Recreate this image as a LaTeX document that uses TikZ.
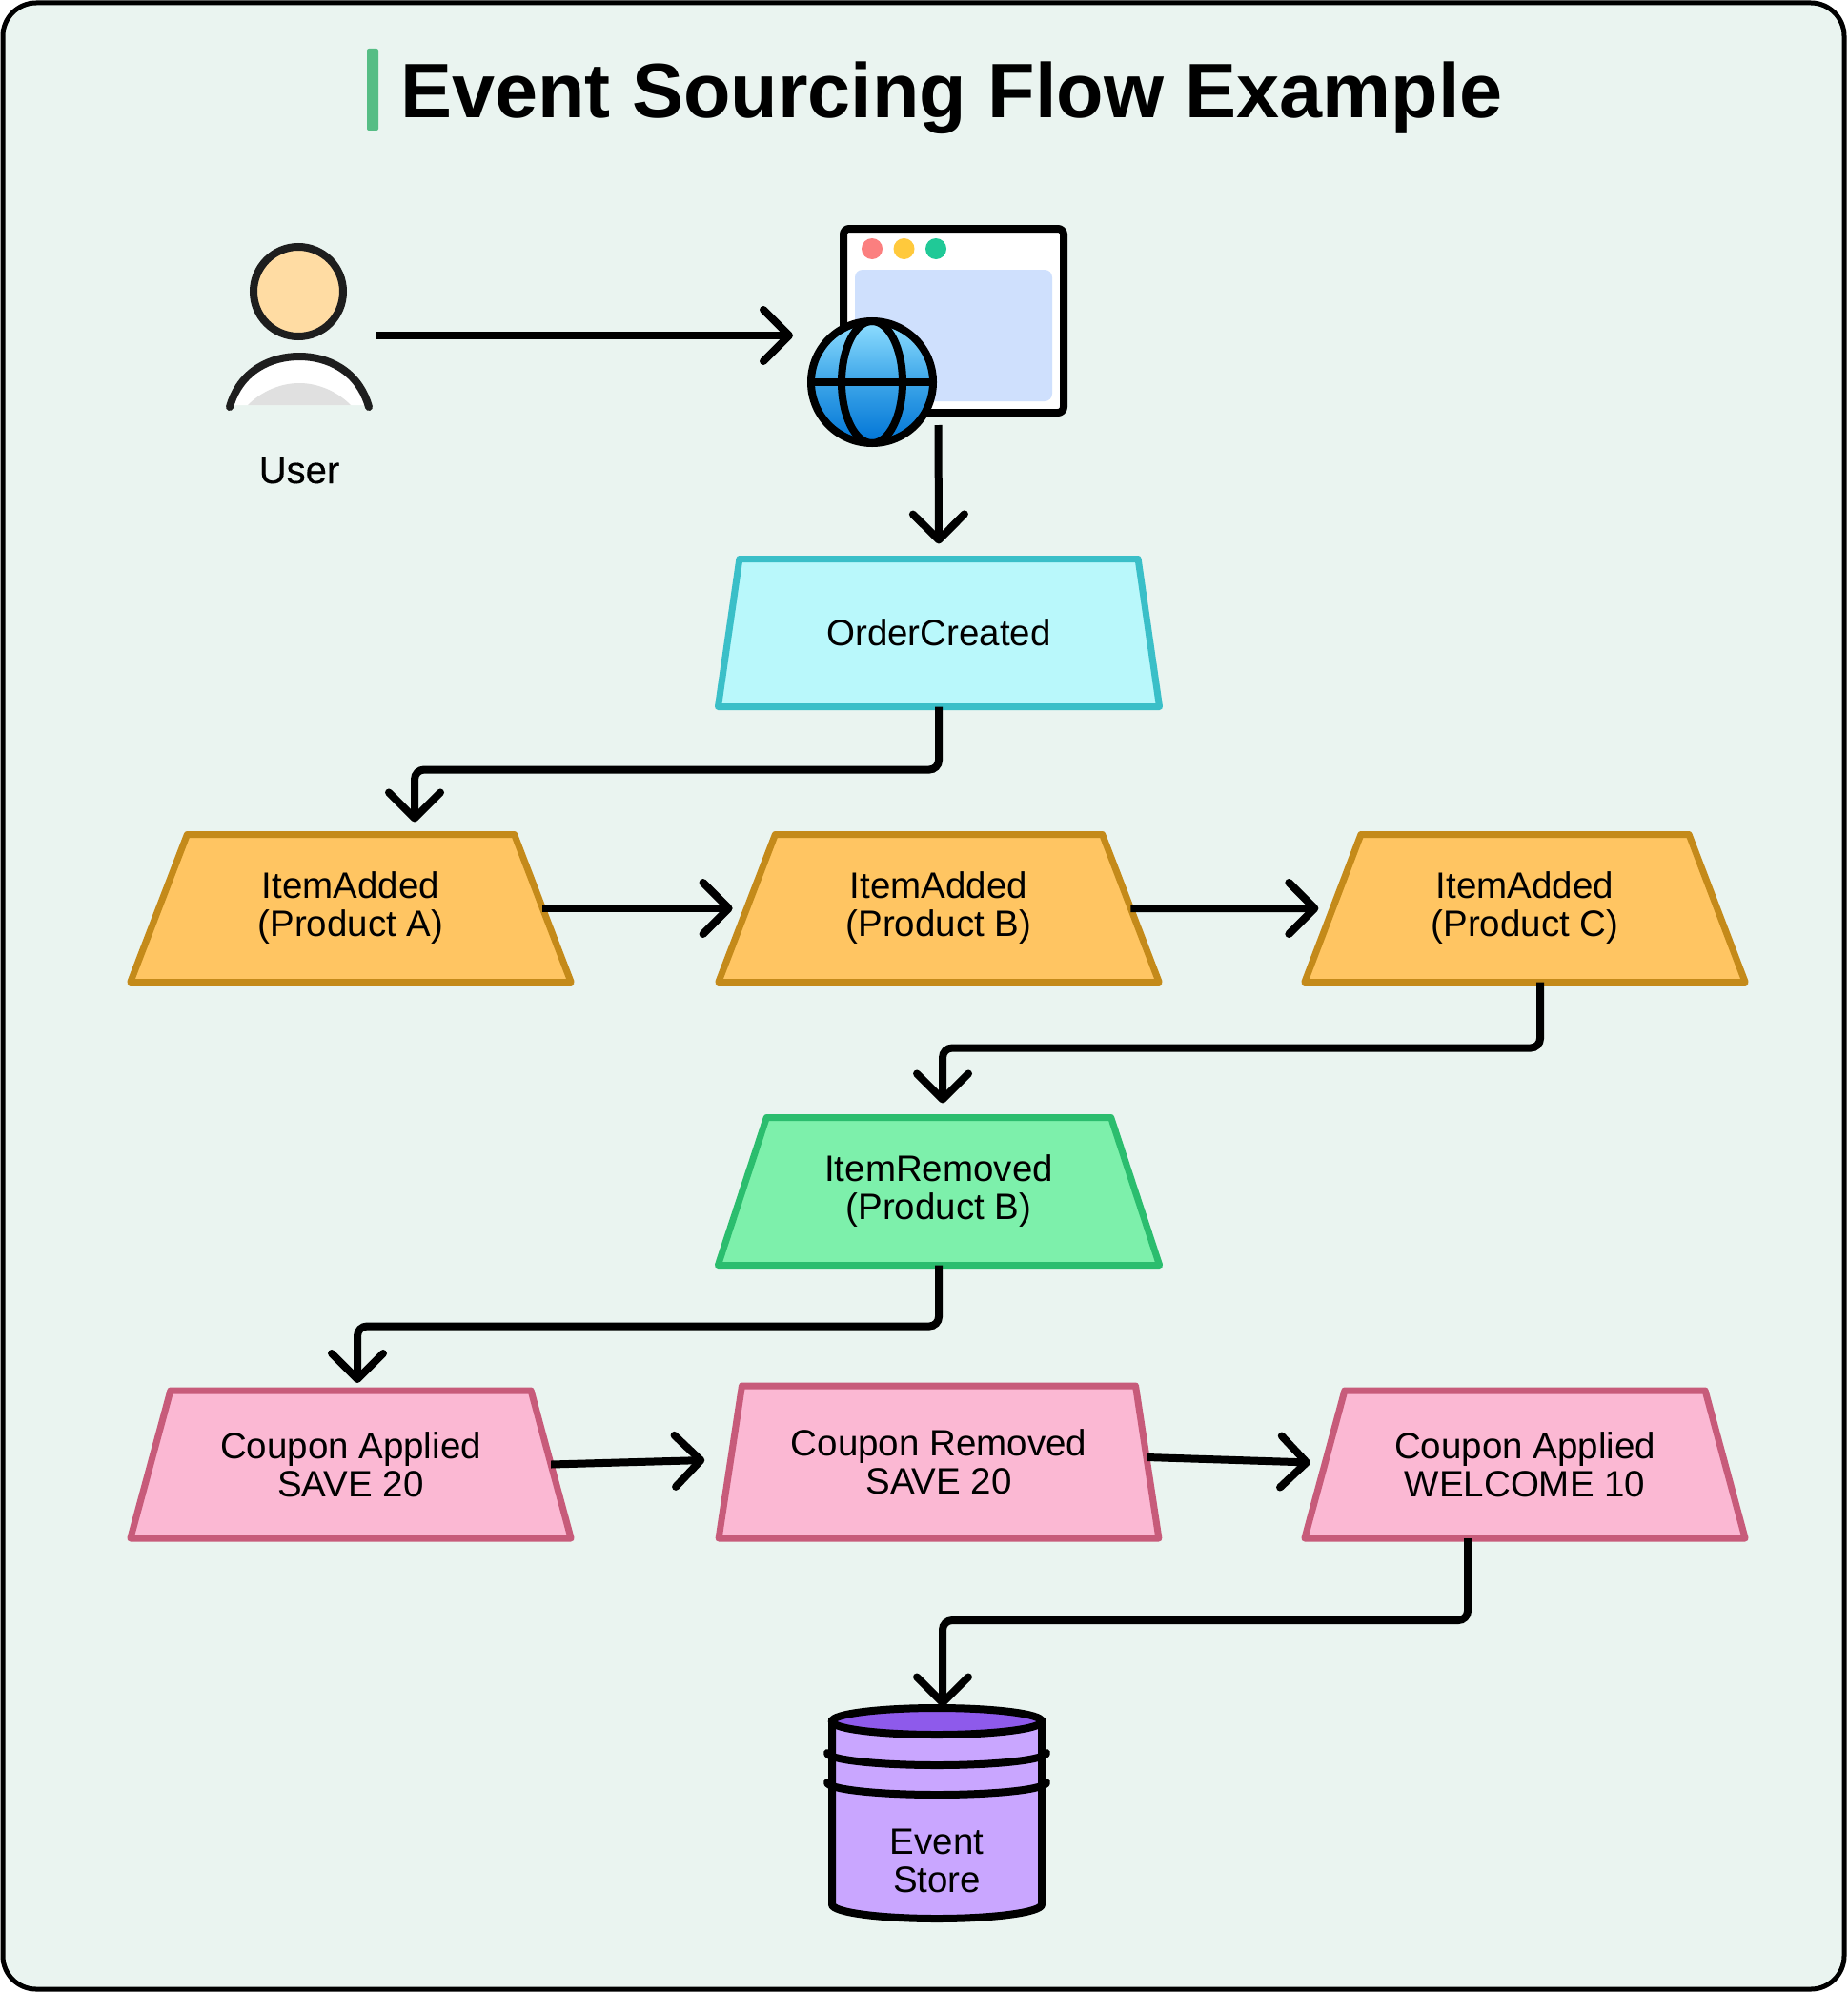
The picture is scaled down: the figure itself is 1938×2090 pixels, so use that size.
\documentclass[tikz,border=0pt]{standalone}
\usepackage{fontspec}
\setmainfont{Liberation Sans}
\newfontfamily\mediumfont[FakeBold=0.3]{Liberation Sans}
\usetikzlibrary{arrows.meta,shapes.geometric}

\definecolor{pagefill}{HTML}{EAF4F0}
\definecolor{orderfill}{HTML}{B9F8FB}
\definecolor{orderline}{HTML}{3ABFC8}
\definecolor{itemfill}{HTML}{FFC562}
\definecolor{itemline}{HTML}{C48A1A}
\definecolor{removedfill}{HTML}{7DF0AB}
\definecolor{removedline}{HTML}{2BBD6E}
\definecolor{couponfill}{HTML}{FBB8D3}
\definecolor{couponline}{HTML}{C75B7A}
\definecolor{storefill}{HTML}{C9A6FF}
\definecolor{storetop}{HTML}{8E5AEB}
\definecolor{barfill}{HTML}{56BD85}
\definecolor{panelfill}{HTML}{CFE0FD}
\definecolor{headfill}{HTML}{FFDCA3}
\definecolor{bodyline}{HTML}{1E1E1E}

\tikzset{
  event/.style={trapezium,trapezium stretches=true,draw,line width=7pt,line join=round,
    inner sep=0pt,outer sep=0pt,minimum width=464pt,minimum height=155pt,
    trapezium left angle=66,trapezium right angle=66,align=center,
    font=\fontsize{38.5}{40}\selectfont},
  flow/.style={draw=black,line width=8pt,rounded corners=10pt,
    -{Straight Barb[length=27pt,width=54pt,round]}},
  boxlabel/.style={inner sep=0pt,outer sep=0pt,align=center,font=\fontsize{38.5}{40}\selectfont},
  light/.style={circle,inner sep=0pt,outer sep=0pt,minimum size=22pt},
  storeline/.style={draw=black,line width=8pt,line cap=round}
}

\begin{document}
\begin{tikzpicture}[x=1pt,y=-1pt]
  \useasboundingbox (0,0) rectangle (1938,2090);
  \draw[line width=5pt,fill=pagefill,rounded corners=35pt] (3,3) rectangle (1935,2087);

  \node[fill=barfill,rounded corners=2pt,inner sep=0pt,outer sep=0pt,minimum width=12pt,minimum height=86pt] (titlebar) at (391,94) {};
  \node[anchor=base west,inner sep=0pt,font=\fontsize{81}{84}\bfseries] (title) at (420,124) {Event Sourcing Flow Example};

  % user
  \fill[white] (243,425) .. controls (254,388) and (285,374) .. (314,374) .. controls (343,374) and (374,388) .. (385,425) -- cycle;
  \fill[black!12] (260,425) .. controls (275,410) and (295,402) .. (314,402) .. controls (333,402) and (353,410) .. (368,425) -- cycle;
  \draw[draw=bodyline,line width=8pt,line cap=round] (241,427) .. controls (252,388) and (285,374) .. (314,374) .. controls (343,374) and (376,388) .. (387,427);
  \node[circle,draw=bodyline,fill=headfill,line width=8pt,inner sep=0pt,outer sep=0pt,minimum size=94pt] (userhead) at (313,306) {};
  \node[anchor=base,inner sep=0pt,font=\fontsize{40}{42}\mediumfont] (user) at (314,507) {User};

  % browser
  \node[draw,fill=white,line width=8pt,rounded corners=6pt,inner sep=0pt,outer sep=0pt,minimum width=231pt,minimum height=193pt] (browser) at (1000.5,336.5) {};
  \node[light,fill={rgb,255:red,251;green,127;blue,127}] (dot1) at (915,261) {};
  \node[light,fill={rgb,255:red,255;green,201;blue,60}] (dot2) at (948.5,261) {};
  \node[light,fill={rgb,255:red,32;green,201;blue,151}] (dot3) at (982,261) {};
  \node[fill=panelfill,rounded corners=8pt,inner sep=0pt,outer sep=0pt,minimum width=207pt,minimum height=138pt] (panel) at (1000.5,352) {};
  \node[circle,draw,line width=8pt,inner sep=0pt,outer sep=0pt,minimum size=128pt,shading angle=-25,
    top color={rgb,255:red,143;green,222;blue,255},bottom color={rgb,255:red,0;green,116;blue,214},middle color={rgb,255:red,60;green,165;blue,232}] (web) at (915,401) {};
  \draw[line width=8pt] (915,401) ellipse [x radius=32pt,y radius=64pt];
  \draw[line width=8pt] (web.west) -- (web.east);

  % event boxes
  \node[event,draw=orderline,fill=orderfill] (ordercreated) at (985,664) {OrderCreated};

  \node[event,draw=itemline,fill=itemfill] (itema) at (368,953) {ItemAdded\\(Product A)};
  \node[event,draw=itemline,fill=itemfill] (itemb) at (985,953) {ItemAdded\\(Product B)};
  \node[event,draw=itemline,fill=itemfill] (itemc) at (1600,953) {ItemAdded\\(Product C)};

  \node[event,draw=removedline,fill=removedfill] (itemremoved) at (985,1250) {ItemRemoved\\(Product B)};

  \node[event,draw=couponline,fill=couponfill] (coupona) at (368,1536.5) {Coupon Applied\\SAVE 20};
  \node[event,draw=couponline,fill=couponfill,trapezium left angle=75,trapezium right angle=75,minimum height=160pt] (couponb) at (985,1534) {Coupon Removed\\SAVE 20};
  \node[event,draw=couponline,fill=couponfill] (couponc) at (1600,1536.5) {Coupon Applied\\WELCOME 10};

  % store
  \node[inner sep=0pt,outer sep=0pt,minimum width=220pt,minimum height=207pt] (store) at (983,1906) {};
  \draw[storeline,fill=storefill,line cap=butt] (873,1806) -- (873,1998) arc[start angle=180,end angle=360,x radius=110pt,y radius=15pt] -- (1093,1806) -- cycle;
  \draw[storeline] (868,1839) arc[start angle=180,end angle=360,x radius=115pt,y radius=13pt];
  \draw[storeline] (868,1870) arc[start angle=180,end angle=360,x radius=115pt,y radius=13pt];
  \draw[storeline,fill=storetop] (983,1806) ellipse [x radius=110pt,y radius=14pt];
  \node[boxlabel] (storelabel) at (983,1952) {Event\\Store};

  % flow
  \coordinate (userport) at (394,352);
  \coordinate (webport) at (832,352);
  \draw[flow] (userport) -- (webport);
  \draw[flow] ([xshift=-16pt,yshift=-13pt]browser.south) -- ([yshift=16pt]ordercreated.north);
  \draw[flow] (ordercreated.south) -- ++(0,66) -| ([xshift=67pt,yshift=13pt]itema.north);
  \draw[flow] (itema.east) -- ([xshift=-15pt]itemb.west);
  \draw[flow] (itemb.east) -- ([xshift=-15pt]itemc.west);
  \draw[flow] ([xshift=16pt]itemc.south) -- ++(0,69) -| ([xshift=4pt,yshift=15pt]itemremoved.north);
  \draw[flow] (itemremoved.south) -- ++(0,64) -| ([xshift=7pt,yshift=8pt]coupona.north);
  \draw[flow] (coupona.east) -- ([xshift=-27pt,yshift=2pt]couponb.west);
  \draw[flow] ([yshift=5pt]couponb.east) -- ([xshift=-15pt,yshift=2pt]couponc.west);
  \draw[flow] ([xshift=-60pt]couponc.south) -- ++(0,86) -| ([xshift=6pt,yshift=12pt]store.north);
\end{tikzpicture}
\end{document}
